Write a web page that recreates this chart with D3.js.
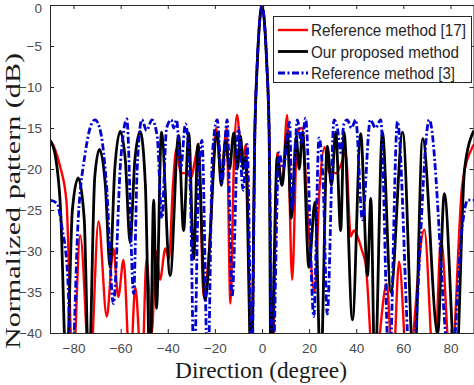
<!DOCTYPE html>
<html>
  <head>
    <meta charset="utf-8" />
    <title>Normalized pattern</title>
    <style>
      body { margin: 0; background: #fff; }
      svg { display: block; }
      .tick-label { font-family: "Liberation Sans", Arial, sans-serif; font-size: 13.5px; fill: #4a4a4a; }
      .axis-title { font-family: "Liberation Serif", "Times New Roman", serif; fill: #1a1a1a; }
      .legend-text { font-family: "Liberation Sans", Arial, sans-serif; font-size: 16px; fill: #262626; }
    </style>
  </head>
  <body>
    <div id="chart"></div>
    <script src="https://cdnjs.cloudflare.com/ajax/libs/d3/7.8.5/d3.min.js"></script>
    <script>
// values: [direction (deg), pattern (dB)]
const ref17Pattern = [
  [-90,-16.5],[-88,-17.5],[-85.7,-19.7],[-83,-24],[-80.3,-45],[-77.2,-28.1],[-73,-45],[-69.4,-26.4],
  [-65.9,-38],[-63.1,-29.7],[-61,-35.6],[-58.8,-31.1],[-56,-45],[-53.8,-34.4],[-51,-45],[-49,-31],
  [-46.8,-40],[-45,-30],[-43.3,-33.5],[-41,-29.7],[-39.5,-31],[-37.8,-22],[-36.3,-17.5],[-34.5,-20.5],
  [-32,-20.5],[-30,-21],[-28.5,-19],[-26.9,-16.9],[-24.8,-35.6],[-22,-28],[-19.5,-15],[-17.3,-21],
  [-15,-15],[-13.4,-36.4],[-12,-20],[-10.6,-13.4],[-8.5,-19],[-6.8,-17],[-4.4,-45],[-3,-15],[-2,-7],
  [-1,-2],[0,0],[1,-2],[2,-7],[3,-15],[4.4,-45],[6.5,-18],[8.5,-22],[10.7,-13.4],[12.8,-33.5],
  [15,-15.5],[17,-15],[19.5,-26],[22.3,-35],[24.5,-22],[26.6,-17.3],[28.5,-20.5],[31.5,-20.5],
  [33.5,-19.5],[35.5,-18],[37.7,-28.2],[39,-27.5],[40.5,-28.2],[42.5,-30],[44,-31.6],[47.5,-45],
  [53,-34],[55.5,-45],[58.2,-31.3],[61.8,-45],[68.9,-27.4],[73.1,-45],[76,-28.6],[80.2,-45],
  [85,-22],[89.4,-17.3],[90,-17]
];

const proposedPattern = [
  [-90,-16.5],[-88,-18],[-85.5,-25],[-83,-45],[-80.5,-25],[-78,-21.1],[-75.5,-26],[-73.5,-45],
  [-71,-21],[-69,-17.6],[-66.5,-22],[-64.5,-32],[-62.5,-20],[-60.2,-15.4],[-58,-19],[-56,-29],
  [-54,-19],[-51.7,-15.4],[-49.5,-22],[-47.5,-45],[-46,-23.8],[-44.8,-37],[-42.7,-15.5],[-39,-33],
  [-35.4,-15.9],[-33.3,-27.5],[-31.1,-15.6],[-29,-31],[-27.2,-17],[-24.2,-36],[-19,-15.6],
  [-17.3,-22],[-15.5,-16.5],[-13.8,-20],[-12,-15.6],[-10.5,-20],[-9.1,-16],[-8,-20],[-7,-18.5],
  [-4.5,-45],[-3,-15],[-2,-7],[-1,-2],[0,0],[1,-2],[2,-7],[3,-15],[3.8,-45],[6.5,-18.5],[8.5,-22],
  [10.7,-15.7],[12.5,-26],[14.5,-16],[15.8,-20],[17.2,-15.5],[19.9,-32],[22.5,-24],[24.9,-45],
  [27.7,-17.2],[29.5,-22],[31.3,-15.5],[33.4,-27.5],[34.8,-15.5],[38.4,-38.4],[41.9,-15.7],
  [44.8,-33],[46.2,-23.6],[47.9,-45],[51.1,-15.5],[54.7,-35],[59.7,-15.5],[64.6,-45],[68.2,-16.3],
  [74.6,-40],[77.4,-23],[82.3,-45],[86,-20],[90,-15.3]
];

const ref3Pattern = [
  [-90,-23.8],[-87,-24.2],[-85,-27],[-82.5,-33],[-80.8,-45],[-78,-26],[-75,-18],[-73,-15],
  [-70.9,-14],[-68.5,-15.5],[-66,-22],[-63.1,-36.4],[-60,-19],[-57.4,-13.9],[-54.5,-35.2],
  [-53,-20],[-51,-14],[-49,-15.3],[-46.7,-14],[-44.5,-16],[-42.5,-26],[-40.5,-15],[-38.5,-14],
  [-37.5,-15],[-36.3,-14],[-34.5,-20],[-32.5,-14.5],[-30.5,-22],[-28.8,-45],[-27,-22],
  [-25.5,-16.5],[-23,-45],[-21,-18],[-19,-14],[-17,-21.7],[-14.8,-14],[-12.7,-35.6],[-10,-15],
  [-8,-22.6],[-6.3,-17],[-4.3,-45],[-3,-15],[-2,-7],[-1,-2],[0,0],[1,-2],[2,-7],[3,-15],
  [4.5,-45],[7.2,-18],[9,-20],[11.7,-14.3],[12.8,-25],[15,-14],[16.8,-17],[18.5,-13.8],
  [22,-38],[24.2,-16.2],[26,-22],[27.7,-37.7],[30.6,-14],[32,-15],[33.4,-18],[34.8,-14.5],
  [36.2,-14],[38,-15],[39.8,-14],[42.6,-26.2],[46,-14],[48.2,-15],[50.4,-14],[54,-45],
  [57.5,-14.2],[63.2,-45],[71,-14],[80.2,-45],[85,-27],[87.3,-23.8],[90,-23.8]
];

const xTicks = [-80, -60, -40, -20, 0, 20, 40, 60, 80];
const yTicks = [0, -5, -10, -15, -20, -25, -30, -35, -40];
const legendLabels = ['Reference method [17]', 'Our proposed method', 'Reference method [3]'];

const width = 474, height = 385;
const plotLeft = 50, plotRight = 474, plotTop = 5, plotBottom = 333;

const svg = d3.select('#chart').append('svg')
  .attr('width', width)
  .attr('height', height);

const x = d3.scaleLinear().domain([-90, 90]).range([plotLeft, plotRight]);
const y = d3.scaleLinear().domain([-40, 0]).range([plotBottom, plotTop]);

svg.append('clipPath').attr('id', 'plot-clip')
  .append('rect')
  .attr('x', plotLeft).attr('y', plotTop)
  .attr('width', plotRight - plotLeft).attr('height', plotBottom - plotTop);

const line = d3.line()
  .x(d => x(d[0]))
  .y(d => y(d[1]))
  .curve(d3.curveMonotoneX);

const series = [
  { data: ref17Pattern, color: '#ff0000', width: 2.4, dash: null },
  { data: proposedPattern, color: '#000000', width: 2.8, dash: null },
  { data: ref3Pattern, color: '#0000d0', width: 2.8, dash: '7,2.5,2,2.5' }
];

const plot = svg.append('g').attr('clip-path', 'url(#plot-clip)');
series.forEach(s => {
  plot.append('path')
    .datum(s.data)
    .attr('fill', 'none')
    .attr('stroke', s.color)
    .attr('stroke-width', s.width)
    .attr('stroke-dasharray', s.dash)
    .attr('stroke-linejoin', 'round')
    .attr('d', line);
});

// axes: box with inward ticks on all sides
const axisColor = '#262626';
const tickLen = 4;

const bottomAxis = svg.append('g')
  .attr('transform', `translate(0,${plotBottom})`)
  .call(d3.axisBottom(x).tickValues(xTicks).tickSizeInner(-tickLen).tickSizeOuter(0).tickPadding(10));
const topAxis = svg.append('g')
  .attr('transform', `translate(0,${plotTop})`)
  .call(d3.axisTop(x).tickValues(xTicks).tickSizeInner(-tickLen).tickSizeOuter(0).tickFormat(''));
const leftAxis = svg.append('g')
  .attr('transform', `translate(${plotLeft},0)`)
  .call(d3.axisLeft(y).tickValues(yTicks).tickSizeInner(-tickLen).tickSizeOuter(0).tickPadding(8));
const rightAxis = svg.append('g')
  .attr('transform', `translate(${plotRight - 0.5},0)`)
  .call(d3.axisRight(y).tickValues(yTicks).tickSizeInner(-tickLen).tickSizeOuter(0).tickFormat(''));

[bottomAxis, topAxis, leftAxis, rightAxis].forEach(a => {
  a.select('.domain').attr('stroke', axisColor);
  a.selectAll('.tick line').attr('stroke', axisColor);
  a.selectAll('.tick text').attr('class', 'tick-label').attr('fill', null);
});
// the top label sits right at the edge, nudge it down a little
leftAxis.selectAll('.tick text').filter(d => d === 0).attr('dy', '0.55em');

// axis titles
svg.append('text')
  .attr('class', 'axis-title')
  .attr('x', 261)
  .attr('y', 378)
  .attr('text-anchor', 'middle')
  .attr('font-size', 23)
  .attr('textLength', 172)
  .attr('lengthAdjust', 'spacingAndGlyphs')
  .text('Direction (degree)');

svg.append('text')
  .attr('class', 'axis-title')
  .attr('transform', 'translate(20,201) rotate(-90)')
  .attr('text-anchor', 'middle')
  .attr('font-size', 21)
  .attr('textLength', 296)
  .attr('lengthAdjust', 'spacingAndGlyphs')
  .text('Normalized pattern (dB)');

// legend
const legend = svg.append('g');
legend.append('rect')
  .attr('x', 273.5).attr('y', 16.5)
  .attr('width', 198).attr('height', 66)
  .attr('fill', '#fff')
  .attr('stroke', axisColor)
  .attr('stroke-width', 1);

const textLengths = [155, 148, 144];
series.forEach((s, i) => {
  const yy = 30 + i * 21.5;
  legend.append('line')
    .attr('x1', 278).attr('x2', 308)
    .attr('y1', yy).attr('y2', yy)
    .attr('stroke', s.color)
    .attr('stroke-width', s.width)
    .attr('stroke-dasharray', s.dash);
  legend.append('text')
    .attr('class', 'legend-text')
    .attr('x', 311)
    .attr('y', yy + 6)
    .attr('textLength', textLengths[i])
    .attr('lengthAdjust', 'spacingAndGlyphs')
    .text(legendLabels[i]);
});
    </script>
  </body>
</html>
